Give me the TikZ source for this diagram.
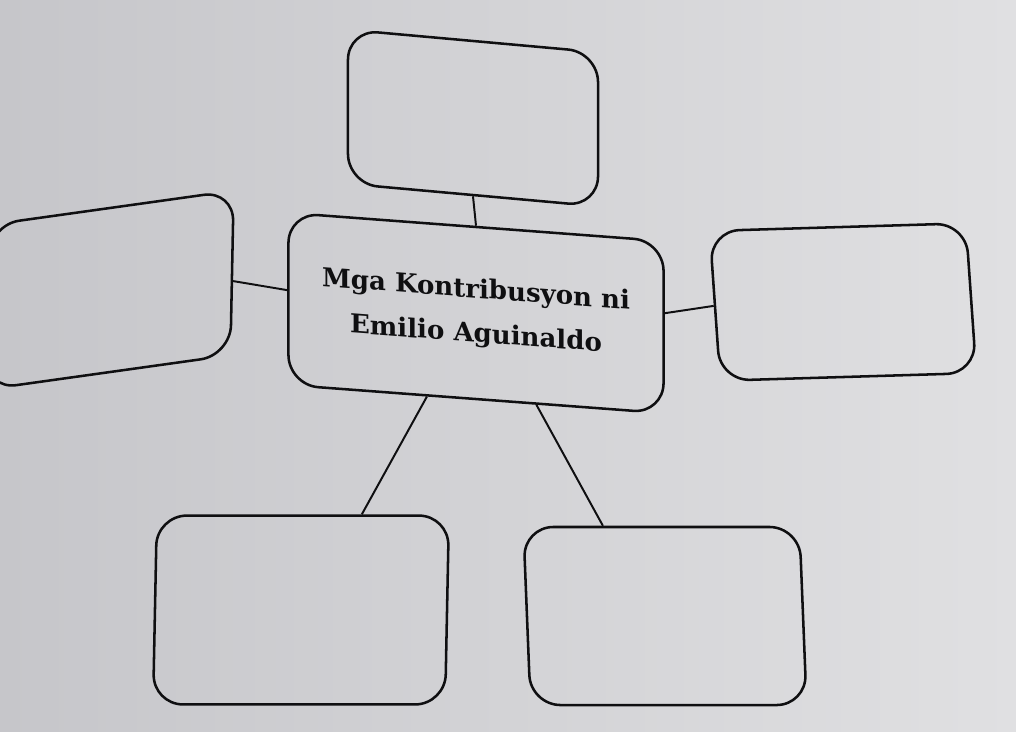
\documentclass[tikz,border=0pt]{standalone}
\usepackage{fontspec}
\newfontfamily\boxfont{DejaVu Serif}
\usetikzlibrary{calc}
\definecolor{bgL}{RGB}{198,198,202}
\definecolor{bgR}{RGB}{224,224,226}
\definecolor{ink}{RGB}{15,15,17}
\tikzset{
  box/.style={draw=ink, line width=1.8pt, rounded corners=0.75cm, inner sep=0pt},
  link/.style={draw=ink, line width=1.4pt}
}
\begin{document}
\begin{tikzpicture}[x=0.025cm, y=-0.025cm]
\useasboundingbox (0,0) rectangle (1016,731);
\clip (0,0) rectangle (1016,731);
\shade[left color=bgL, right color=bgR] (0,0) rectangle (1016,731);

\node[box, minimum width=9.375cm, minimum height=4.3cm, yslant=-0.075,
      align=center, font=\boxfont\bfseries\fontsize{18.5}{31.5}\selectfont, text=ink]
      (central) at (476,313) {Mga Kontribusyon ni\\Emilio Aguinaldo};
\node[box, minimum width=6.25cm, minimum height=3.85cm, yslant=-0.09] (top) at (473,118) {};
\node[box, minimum width=6.1cm, minimum height=4.1cm, yslant=0.14, xslant=0.02] (left) at (110,290) {};
\node[box, minimum width=6.4cm, minimum height=3.75cm, yslant=0.03, xslant=-0.07] (right) at (843,302) {};
\node[box, minimum width=7.3cm, minimum height=4.72cm, xslant=0.02] (bl) at (301,610) {};
\node[box, minimum width=6.9cm, minimum height=4.45cm, xslant=-0.04] (br) at (665,616) {};

\draw[link] (top.south) -- (central.north);
\draw[link] ($(left.north east)!0.55!(left.south east)$) -- ($(central.north west)!0.45!(central.south west)$);
\draw[link] ($(central.north east)!0.42!(central.south east)$) -- (right.west);
\draw[link] ($(central.south west)!0.37!(central.south east)$) -- ($(bl.north west)!0.70!(bl.north east)$);
\draw[link] ($(central.south west)!0.66!(central.south east)$) -- ($(br.north west)!0.29!(br.north east)$);
\end{tikzpicture}
\end{document}
